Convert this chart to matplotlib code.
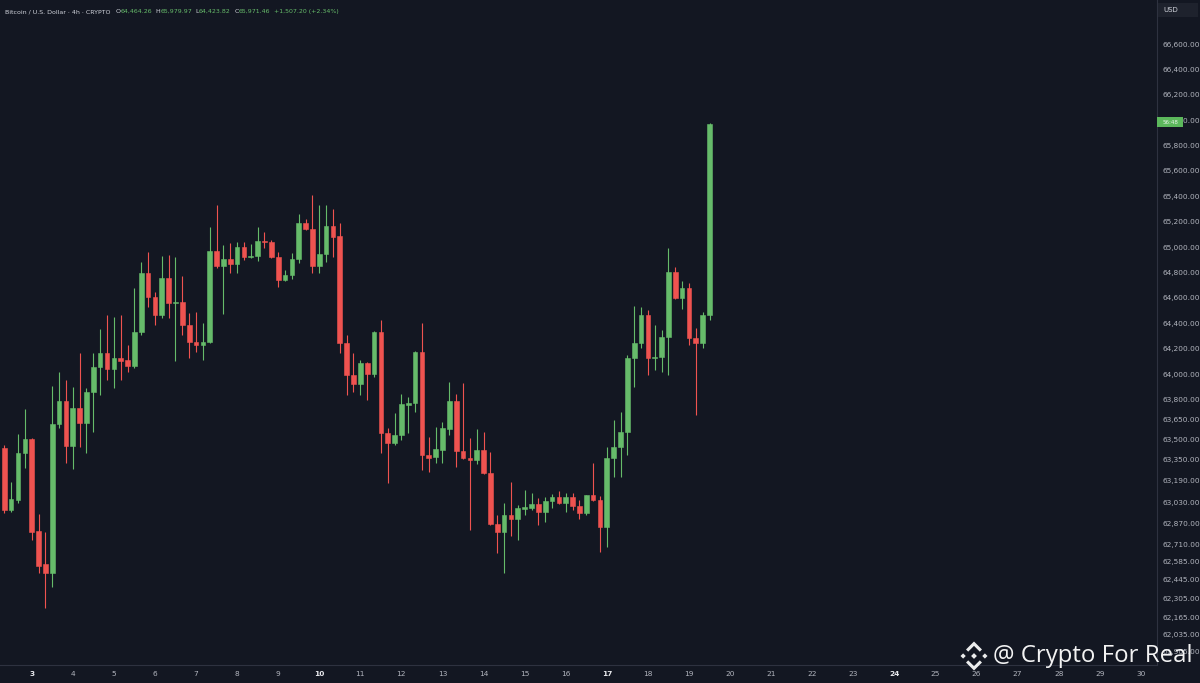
import numpy as np
import matplotlib
matplotlib.use("Agg")
import matplotlib.pyplot as plt
from matplotlib.patches import Polygon, Rectangle

# 4h BTCUSD candles, first one is day 2 08:00
opens = [63438, 62971, 63046, 63398, 63504, 62813, 62565, 62498, 63616, 63789,
         63451, 63736, 63624, 63859, 64056, 64166, 64040, 64127, 64111, 64064,
         64331, 64796, 64607, 64465, 64757, 64560, 64568, 64387, 64253, 64229,
         64253, 64970, 64851, 64906, 64867, 65001, 64922, 64930, 65048, 65040,
         64922, 64741, 64780, 64906, 65190, 65143, 64851, 64946, 65166, 65088,
         64245, 63993, 63922, 64087, 64001, 64331, 63549, 63474, 63534, 63759,
         63774, 64174, 63383, 63368, 63421, 63579, 63789, 63413, 63361, 63346,
         63421, 63248, 62866, 62806, 62933, 62903, 62978, 62986, 63016, 62956,
         63038, 63068, 63023, 63068, 63001, 62948, 63083, 63046, 62843, 63361,
         63444, 63556, 64127, 64245, 64465, 64127, 64135, 64292, 64804, 64599,
         64678, 64284, 64245, 64464.26]
highs = [63459, 63181, 63541, 63729, 63511, 62941, 62806, 63906, 64016, 63953,
         63898, 64166, 63890, 64166, 64355, 64465, 64450, 64465, 64229, 64678,
         64883, 64962, 64647, 64930, 64938, 64922, 64773, 64481, 64489, 64402,
         65159, 65332, 65017, 65033, 65040, 65040, 65025, 65159, 65119, 65056,
         64962, 64820, 64954, 65261, 65222, 65411, 65332, 65332, 65300, 65190,
         64308, 64166, 64111, 64095, 64339, 64426, 63586, 63699, 63843, 63819,
         64182, 64402, 63519, 63594, 63631, 63938, 63843, 63930, 63511, 63579,
         63556, 63406, 62933, 63023, 63181, 63008, 63121, 63098, 63061, 63068,
         63091, 63113, 63098, 63098, 63046, 63083, 63323, 63076, 63444, 63646,
         63706, 64150, 64536, 64528, 64505, 64387, 64347, 64993, 64843, 64733,
         64717, 64363, 64489, 65979.97]
lows = [62948, 62956, 63023, 63286, 62746, 62498, 62235, 62393, 63586, 63323,
        63278, 63444, 63398, 63556, 63835, 63953, 63890, 63953, 64016, 64048,
        64308, 64528, 64387, 64442, 64442, 64103, 64308, 64127, 64174, 64111,
        64245, 64836, 64473, 64796, 64796, 64899, 64914, 64891, 64993, 64914,
        64686, 64733, 64749, 64875, 65135, 64796, 64796, 64883, 64922, 64166,
        63835, 63859, 63835, 63796, 63977, 63398, 63173, 63459, 63496, 63549,
        63706, 63271, 63256, 63323, 63323, 63534, 63293, 63353, 62821, 63316,
        63241, 62858, 62648, 62498, 62776, 62746, 62933, 62971, 62858, 62881,
        62986, 63016, 62956, 62971, 62903, 62933, 63038, 62656, 62693, 63218,
        63218, 63383, 63898, 64205, 63993, 64032, 64016, 63993, 64591, 64513,
        64229, 63684, 64205, 64423.82]
closes = [62971, 63053, 63398, 63504, 62806, 62550, 62498, 63616, 63789, 63451,
          63736, 63624, 63859, 64056, 64166, 64040, 64127, 64103, 64064, 64331,
          64796, 64607, 64465, 64757, 64560, 64568, 64387, 64253, 64229, 64253,
          64970, 64851, 64906, 64867, 65001, 64922, 64930, 65048, 65040, 64922,
          64741, 64780, 64906, 65190, 65143, 64851, 64946, 65166, 65080, 64245,
          63993, 63922, 64087, 64001, 64331, 63549, 63474, 63534, 63766, 63774,
          64174, 63383, 63361, 63429, 63586, 63789, 63413, 63361, 63346, 63421,
          63248, 62866, 62806, 62933, 62903, 62986, 62993, 63016, 62956, 63038,
          63068, 63023, 63068, 63001, 62948, 63083, 63046, 62843, 63361, 63444,
          63556, 64127, 64245, 64465, 64127, 64135, 64292, 64804, 64599, 64678,
          64284, 64245, 64465, 65971.46]

first_day = 2 + 8 / 24
step_days = 4 / 24

day_ticks = list(range(3, 31))
bold_days = [3, 10, 17, 24]
price_ticks = [61905, 62035, 62165, 62305, 62445, 62585, 62710, 62870, 63030,
               63190, 63350, 63500, 63650, 63800, 64000, 64200, 64400, 64600,
               64800, 65000, 65200, 65400, 65600, 65800, 66000, 66200, 66400,
               66600]

header = [("Bitcoin / U.S. Dollar · 4h · CRYPTO", "title", 0),
          ("O", "title", 3.5), ("64,464.26", "up", 0),
          ("H", "title", 2.5), ("65,979.97", "up", 0),
          ("L", "title", 2.5), ("64,423.82", "up", 0),
          ("C", "title", 2.5), ("65,971.46", "up", 0),
          ("+1,507.20 (+2.34%)", "up", 2.5)]
last_label = "56:48"
watermark = "@ Crypto For Real"

BG = "#131722"
UP = "#66bb6a"
DOWN = "#ef5350"
TXT = "#b2b5be"
LINE = "#2e3240"

# below 63,800 the price axis of the screenshot is a bit stretched
KINK = 63800
STRETCH = 1.0496


def fwd(v):
    v = np.asarray(v, dtype=float)
    return np.where(v >= KINK, v, KINK - (KINK - v) * STRETCH)


def inv(u):
    u = np.asarray(u, dtype=float)
    return np.where(u >= KINK, u, KINK - (KINK - u) / STRETCH)


W, H = 1200, 683


def px(x, y):
    return (x / W, 1 - y / H)


fig = plt.figure(figsize=(W / 100, H / 100), dpi=100, facecolor=BG)
ax = fig.add_axes([0, 18 / H, 1157 / W, 1 - 18 / H])
ax.set_facecolor(BG)
ax.set_yscale("function", functions=(fwd, inv))

o = np.array(opens)
h = np.array(highs)
l = np.array(lows)
c = np.array(closes)
t = first_day + np.arange(len(o)) * step_days
cols = np.where(c >= o, UP, DOWN)

ax.vlines(t, l, h, colors=cols, linewidth=0.8, zorder=2)
ax.bar(t, c - o, bottom=o, width=0.68 * step_days, color=cols,
       edgecolor=cols, linewidth=0.4, zorder=3)

ax.set_xlim(2.2283, 30.393)
ax.set_ylim(61807, 66947)

ax.set_yticks(price_ticks)
ax.set_yticklabels([f"{p:,.2f}" for p in price_ticks])
ax.yaxis.set_minor_locator(matplotlib.ticker.NullLocator())
ax.yaxis.tick_right()
ax.tick_params(axis="y", length=0, pad=4, labelsize=5.3, labelcolor=TXT)

ax.set_xticks(day_ticks)
ax.set_xticklabels([str(d) for d in day_ticks])
ax.tick_params(axis="x", length=0, pad=4.5, labelsize=5.3, labelcolor=TXT)
for lab, d in zip(ax.get_xticklabels(), day_ticks):
    if d in bold_days:
        lab.set_fontweight("bold")
        lab.set_color("#e8e9ed")

for side in ["top", "left"]:
    ax.spines[side].set_visible(False)
for side in ["right", "bottom"]:
    ax.spines[side].set_color(LINE)
    ax.spines[side].set_linewidth(0.8)

# header line, pieces chained one after another
colors = {"title": "#d1d4dc", "up": UP}
prev = fig.text(5 / W, 1 - 14 / H, header[0][0], color=colors[header[0][1]],
                fontsize=4.5, va="bottom", ha="left")
for text, kind, gap in header[1:]:
    prev = ax.annotate(text, xy=(1, 0), xycoords=prev, xytext=(gap, 0),
                       textcoords="offset points", va="bottom", ha="left",
                       color=colors[kind], fontsize=4.5, annotation_clip=False)

# USD box at top of the price scale
fig.patches.append(Rectangle(px(1158, 17), 40 / W, 14 / H, transform=fig.transFigure,
                             facecolor="#1e222d", edgecolor="none"))
fig.text(*px(1163, 10), "USD", color="#d1d4dc", fontsize=5, va="center", ha="left")

# last price tag
fig.patches.append(Rectangle(px(1157, 127), 26 / W, 10 / H, transform=fig.transFigure,
                             facecolor="#5cb85c", edgecolor="none", zorder=5))
fig.text(*px(1170, 122), last_label, color="#e8f5e9", fontsize=4, va="center",
         ha="center", zorder=6)

# watermark with a binance-like logo
cx, cy, s = 974, 656, 14.5
shapes = [
    [(0, -1.0), (0.55, -0.45), (0.4, -0.3), (0, -0.7), (-0.4, -0.3), (-0.55, -0.45)],
    [(0, 1.0), (0.55, 0.45), (0.4, 0.3), (0, 0.7), (-0.4, 0.3), (-0.55, 0.45)],
    [(0, -0.2), (0.2, 0), (0, 0.2), (-0.2, 0)],
    [(-0.75, -0.18), (-0.57, 0), (-0.75, 0.18), (-0.93, 0)],
    [(0.75, -0.18), (0.93, 0), (0.75, 0.18), (0.57, 0)],
]
for shp in shapes:
    pts = [px(cx + a * s, cy + b * s) for a, b in shp]
    fig.patches.append(Polygon(pts, closed=True, transform=fig.transFigure,
                               facecolor="white", edgecolor="none", alpha=0.92))
fig.text(*px(993, 656), watermark, color="white", fontsize=17.3,
         family=["Open Sans", "DejaVu Sans"], va="center", ha="left", alpha=0.95)

fig.savefig("out.png", dpi=100, facecolor=BG)
